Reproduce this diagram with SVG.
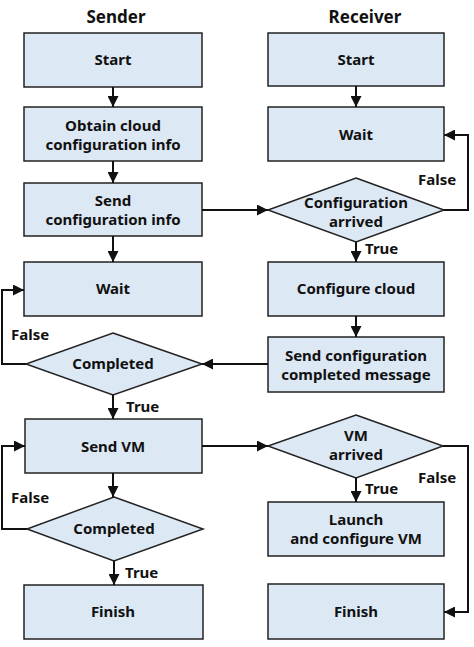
<svg xmlns="http://www.w3.org/2000/svg" width="474" height="647" viewBox="0 0 474 647">
<style>
.n{fill:#dde8f5;stroke:#222;stroke-width:1.5}
.t{font-family:"Noto Sans","Open Sans",sans-serif;font-weight:bold;font-size:15px;fill:#111;text-anchor:middle}
.h{font-family:"Noto Sans","Open Sans",sans-serif;font-weight:bold;font-size:17px;fill:#111;text-anchor:middle}
.l{font-family:"Noto Sans","Open Sans",sans-serif;font-weight:bold;font-size:15px;fill:#111}
.c{fill:none;stroke:#111;stroke-width:2}
</style>
<defs>
<marker id="a" viewBox="0 0 10 10" refX="10" refY="5" markerWidth="5.5" markerHeight="5.5" orient="auto" markerUnits="strokeWidth">
<path d="M0,0L10,5L0,10z" fill="#111"/>
</marker>
</defs>
<rect width="474" height="647" fill="#fff"/>
<text class="h" x="116" y="23">Sender</text>
<text class="h" x="365" y="23">Receiver</text>

<g id="s_start"><rect class="n" x="24" y="33" width="178" height="54"/><text class="t" x="113" y="65">Start</text></g>
<g id="s_obtain"><rect class="n" x="24" y="107" width="178" height="54"/><text class="t" x="113" y="131">Obtain cloud</text><text class="t" x="113" y="150">configuration info</text></g>
<g id="s_send"><rect class="n" x="24" y="183" width="178" height="53"/><text class="t" x="113" y="206">Send</text><text class="t" x="113" y="225">configuration info</text></g>
<g id="s_wait"><rect class="n" x="24" y="262" width="178" height="54"/><text class="t" x="113" y="294">Wait</text></g>
<g id="s_completed1"><polygon class="n" points="113,333 202,364 113,395 26,364"/><text class="t" x="113" y="369">Completed</text></g>
<g id="s_sendvm"><rect class="n" x="25" y="419" width="177" height="54"/><text class="t" x="113" y="452">Send VM</text></g>
<g id="s_completed2"><polygon class="n" points="114,497 203,529 114,561 27,529"/><text class="t" x="114" y="534">Completed</text></g>
<g id="s_finish"><rect class="n" x="24" y="585" width="179" height="54"/><text class="t" x="113" y="617">Finish</text></g>

<g id="r_start"><rect class="n" x="268" y="33" width="176" height="53"/><text class="t" x="356" y="65">Start</text></g>
<g id="r_wait"><rect class="n" x="268" y="107" width="176" height="54"/><text class="t" x="356" y="140">Wait</text></g>
<g id="r_arrived"><polygon class="n" points="356,178 444,210 356,242 268,210"/><text class="t" x="356" y="208">Configuration</text><text class="t" x="356" y="227">arrived</text></g>
<g id="r_configure"><rect class="n" x="268" y="262" width="176" height="54"/><text class="t" x="356" y="294">Configure cloud</text></g>
<g id="r_sendmsg"><rect class="n" x="268" y="337" width="176" height="55"/><text class="t" x="356" y="361">Send configuration</text><text class="t" x="356" y="380">completed message</text></g>
<g id="r_vmarrived"><polygon class="n" points="356,415 443,446 356,478 268,446"/><text class="t" x="356" y="441">VM</text><text class="t" x="356" y="460">arrived</text></g>
<g id="r_launch"><rect class="n" x="268" y="502" width="176" height="54"/><text class="t" x="356" y="525">Launch</text><text class="t" x="356" y="544">and configure VM</text></g>
<g id="r_finish"><rect class="n" x="268" y="584" width="176" height="55"/><text class="t" x="356" y="617">Finish</text></g>

<g id="connectors">
<path class="c" marker-end="url(#a)" d="M113,87V107"/>
<path class="c" marker-end="url(#a)" d="M113,161V183"/>
<path class="c" marker-end="url(#a)" d="M113,236V262"/>
<path class="c" marker-end="url(#a)" d="M202,210H268"/>
<path class="c" marker-end="url(#a)" d="M356,86V107"/>
<path class="c" marker-end="url(#a)" d="M444,210H468V135H444"/>
<path class="c" marker-end="url(#a)" d="M356,242V262"/>
<path class="c" marker-end="url(#a)" d="M356,316V337"/>
<path class="c" marker-end="url(#a)" d="M268,364H202"/>
<path class="c" marker-end="url(#a)" d="M26,364H2V290H24"/>
<path class="c" marker-end="url(#a)" d="M113,395V419"/>
<path class="c" marker-end="url(#a)" d="M202,446H268"/>
<path class="c" marker-end="url(#a)" d="M113,473V497"/>
<path class="c" marker-end="url(#a)" d="M27,529H2V446H25"/>
<path class="c" marker-end="url(#a)" d="M114,561V585"/>
<path class="c" marker-end="url(#a)" d="M356,478V502"/>
<path class="c" marker-end="url(#a)" d="M443,446H468V612H444"/>
<text class="l" x="418" y="185">False</text>
<text class="l" x="365" y="254">True</text>
<text class="l" x="11" y="340">False</text>
<text class="l" x="126" y="412">True</text>
<text class="l" x="11" y="503">False</text>
<text class="l" x="125" y="578">True</text>
<text class="l" x="365" y="494">True</text>
<text class="l" x="418" y="483">False</text>
</g>
</svg>
